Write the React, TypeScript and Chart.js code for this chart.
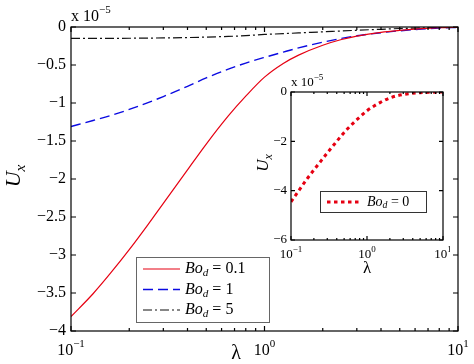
import { useEffect, useRef } from 'react';
import { Chart, registerables } from 'chart.js';
Chart.register(...registerables);

// λ sample points and Ux values (in units of 1e-5)
const lambda = [0.1, 0.13, 0.16, 0.2, 0.25, 0.3, 0.4, 0.5, 0.65, 0.8, 1, 1.25, 1.5, 2, 2.5, 3, 4, 5, 6.5, 8, 10];
const uxBo01 = [-3.81, -3.51, -3.24, -2.93, -2.60, -2.32, -1.88, -1.54, -1.17, -0.91, -0.66, -0.48, -0.37, -0.24, -0.165, -0.12, -0.07, -0.045, -0.022, -0.01, -0.004];
const uxBo1 = [-1.31, -1.23, -1.165, -1.085, -0.995, -0.915, -0.78, -0.67, -0.555, -0.475, -0.40, -0.33, -0.275, -0.20, -0.15, -0.115, -0.075, -0.05, -0.027, -0.014, -0.005];
const uxBo5 = [-0.15, -0.15, -0.149, -0.148, -0.146, -0.144, -0.139, -0.133, -0.124, -0.114, -0.098, -0.088, -0.078, -0.064, -0.052, -0.043, -0.03, -0.02, -0.012, -0.006, -0.003];
const uxBo0 = [-4.45, -3.95, -3.55, -3.16, -2.78, -2.47, -2.0, -1.64, -1.28, -1.02, -0.76, -0.56, -0.42, -0.24, -0.15, -0.10, -0.05, -0.03, -0.015, -0.007, -0.002];

const mainYTicks = [0, -0.5, -1, -1.5, -2, -2.5, -3, -3.5, -4];
const insetYTicks = [0, -2, -4, -6];
const xDecades = [0.1, 1, 10];
const xDecadeExps = ['\u22121', '0', '1'];
const xMinor = [0.2, 0.3, 0.4, 0.5, 0.6, 0.7, 0.8, 0.9, 2, 3, 4, 5, 6, 7, 8, 9];
const legendMain = ['0.1', '1', '5'];
const legendInset = ['0'];
const scaleExp = '\u22125';

const F = '"Liberation Serif","Times New Roman",serif';

function fmt(v: number) {
  return v === 0 ? '0' : (v < 0 ? '\u2212' : '') + String(Math.abs(v));
}

function supText(ctx: CanvasRenderingContext2D, base: string, sup: string, x: number, y: number, size: number, supSize: number, rise: number, align: string) {
  ctx.font = `${size}px ${F}`;
  const wb = ctx.measureText(base).width;
  ctx.font = `${supSize}px ${F}`;
  const ws = ctx.measureText(sup).width;
  const total = wb + ws;
  const x0 = align === 'center' ? x - total / 2 : align === 'right' ? x - total : x;
  ctx.textAlign = 'left';
  ctx.textBaseline = 'alphabetic';
  ctx.font = `${size}px ${F}`;
  ctx.fillText(base, x0, y);
  ctx.font = `${supSize}px ${F}`;
  ctx.fillText(sup, x0 + wb, y - rise);
}

function boLabel(ctx: CanvasRenderingContext2D, x: number, y: number, val: string, size: number) {
  ctx.fillStyle = '#000';
  ctx.textAlign = 'left';
  ctx.textBaseline = 'middle';
  ctx.font = `italic ${size}px ${F}`;
  ctx.fillText('Bo', x, y);
  let w = ctx.measureText('Bo').width;
  ctx.font = `italic ${size * 0.7}px ${F}`;
  ctx.fillText('d', x + w, y + size * 0.28);
  w += ctx.measureText('d').width;
  ctx.font = `${size}px ${F}`;
  ctx.fillText(' = ' + val, x + w, y);
}

function uxTitle(ctx: CanvasRenderingContext2D, x: number, y: number, size: number) {
  ctx.save();
  ctx.translate(x, y);
  ctx.rotate(-Math.PI / 2);
  ctx.fillStyle = '#000';
  ctx.textBaseline = 'alphabetic';
  ctx.textAlign = 'left';
  ctx.font = `italic ${size}px ${F}`;
  const wu = ctx.measureText('U').width;
  ctx.font = `italic ${size * 0.7}px ${F}`;
  const wx = ctx.measureText('x').width;
  const x0 = -(wu + wx) / 2;
  ctx.font = `italic ${size}px ${F}`;
  ctx.fillText('U', x0, 0);
  ctx.font = `italic ${size * 0.7}px ${F}`;
  ctx.fillText('x', x0 + wu, size * 0.22);
  ctx.restore();
}

type FrameOpts = {
  yTicks: number[];
  font: number;
  supFont: number;
  supRise: number;
  major: number;
  minor: number;
  yGap: number;
  xLabelDy: number;
};

function drawFrame(chart: any, o: FrameOpts) {
  const { ctx, chartArea: a } = chart;
  const xs = chart.scales.x;
  const ys = chart.scales.y;
  ctx.save();
  ctx.strokeStyle = '#000';
  ctx.lineWidth = 1.2;
  ctx.strokeRect(a.left, a.top, a.right - a.left, a.bottom - a.top);
  ctx.beginPath();
  o.yTicks.forEach((v) => {
    const py = ys.getPixelForValue(v);
    ctx.moveTo(a.left, py); ctx.lineTo(a.left + o.major, py);
    ctx.moveTo(a.right, py); ctx.lineTo(a.right - o.major, py);
  });
  xDecades.forEach((v) => {
    const px = xs.getPixelForValue(v);
    ctx.moveTo(px, a.bottom); ctx.lineTo(px, a.bottom - o.major);
    ctx.moveTo(px, a.top); ctx.lineTo(px, a.top + o.major);
  });
  xMinor.forEach((v) => {
    const px = xs.getPixelForValue(v);
    ctx.moveTo(px, a.bottom); ctx.lineTo(px, a.bottom - o.minor);
    ctx.moveTo(px, a.top); ctx.lineTo(px, a.top + o.minor);
  });
  ctx.stroke();
  ctx.fillStyle = '#000';
  ctx.font = `${o.font}px ${F}`;
  ctx.textAlign = 'right';
  ctx.textBaseline = 'middle';
  o.yTicks.forEach((v) => {
    ctx.fillText(fmt(v), a.left - o.yGap, ys.getPixelForValue(v));
  });
  xDecades.forEach((v, i) => {
    supText(ctx, '10', xDecadeExps[i], xs.getPixelForValue(v), a.bottom + o.xLabelDy, o.font, o.supFont, o.supRise, 'center');
  });
  supText(ctx, 'x 10', scaleExp, a.left, a.top - 6, o.font, o.supFont, o.supRise, 'left');
  ctx.restore();
}

const mainPlugin = {
  id: 'mainFrame',
  afterDraw(chart: any) {
    const { ctx, chartArea: a } = chart;
    drawFrame(chart, { yTicks: mainYTicks, font: 16, supFont: 11, supRise: 8, major: 5, minor: 3, yGap: 5, xLabelDy: 24 });
    ctx.save();
    // axis titles
    ctx.fillStyle = '#000';
    ctx.font = `${20}px ${F}`;
    ctx.textAlign = 'center';
    ctx.textBaseline = 'alphabetic';
    ctx.fillText('\u03bb', 236, a.bottom + 28);
    uxTitle(ctx, 20, (a.top + a.bottom) / 2 - 3, 22);
    // legend
    const lx = 136, ly = 257, lw = 133, lh = 65;
    ctx.fillStyle = '#fff';
    ctx.fillRect(lx, ly, lw, lh);
    ctx.strokeStyle = '#666';
    ctx.lineWidth = 1;
    ctx.strokeRect(lx + 0.5, ly + 0.5, lw, lh);
    chart.data.datasets.forEach((ds: any, i: number) => {
      const yy = ly + 12 + i * 20.5;
      ctx.beginPath();
      ctx.strokeStyle = ds.borderColor;
      ctx.lineWidth = ds.borderWidth;
      ctx.setLineDash(ds.borderDash || []);
      ctx.moveTo(lx + 7, yy); ctx.lineTo(lx + 44, yy);
      ctx.stroke();
      ctx.setLineDash([]);
      boLabel(ctx, lx + 49, yy, legendMain[i], 16);
    });
    ctx.restore();
  },
};

const insetPlugin = {
  id: 'insetFrame',
  beforeDraw(chart: any) {
    const { ctx, chartArea: a } = chart;
    ctx.save();
    ctx.fillStyle = '#fff';
    ctx.fillRect(a.left, a.top, a.right - a.left, a.bottom - a.top);
    ctx.restore();
  },
  afterDraw(chart: any) {
    const { ctx, chartArea: a } = chart;
    drawFrame(chart, { yTicks: insetYTicks, font: 13, supFont: 9, supRise: 6, major: 4, minor: 2, yGap: 4, xLabelDy: 18 });
    ctx.save();
    ctx.fillStyle = '#000';
    ctx.font = `${17}px ${F}`;
    ctx.textAlign = 'center';
    ctx.textBaseline = 'alphabetic';
    ctx.fillText('\u03bb', (a.left + a.right) / 2, a.bottom + 33);
    uxTitle(ctx, 18, (a.top + a.bottom) / 2 - 3, 17);
    const lx = a.left + 29, ly = a.top + 99, lw = 106, lh = 21;
    ctx.fillStyle = '#fff';
    ctx.fillRect(lx, ly, lw, lh);
    ctx.strokeStyle = '#333';
    ctx.lineWidth = 1;
    ctx.strokeRect(lx + 0.5, ly + 0.5, lw, lh);
    const ds = chart.data.datasets[0];
    const yy = ly + lh / 2 + 0.5;
    ctx.beginPath();
    ctx.strokeStyle = ds.borderColor;
    ctx.lineWidth = ds.borderWidth;
    ctx.setLineDash(ds.borderDash);
    ctx.moveTo(lx + 7, yy); ctx.lineTo(lx + 42, yy);
    ctx.stroke();
    ctx.setLineDash([]);
    boLabel(ctx, lx + 47, yy, legendInset[0], 14);
    ctx.restore();
  },
};

function pts(ys: number[]) {
  return lambda.map((x, i) => ({ x, y: ys[i] }));
}

function baseOptions(ymin: number, padding: any) {
  return {
    responsive: false,
    animation: false as const,
    layout: { padding },
    plugins: { legend: { display: false }, tooltip: { enabled: false } },
    elements: { point: { radius: 0 }, line: { cubicInterpolationMode: 'monotone' as const } },
    scales: {
      x: { type: 'logarithmic' as const, min: 0.1, max: 10, display: false },
      y: { type: 'linear' as const, min: ymin, max: 0, display: false },
    },
  };
}

export default function App() {
  const mainRef = useRef<HTMLCanvasElement>(null);
  const insetRef = useRef<HTMLCanvasElement>(null);
  useEffect(() => {
    const main = new Chart(mainRef.current!, {
      type: 'line',
      data: {
        datasets: [
          { data: pts(uxBo01), borderColor: 'rgb(230,0,18)', borderWidth: 1.2, fill: false },
          { data: pts(uxBo1), borderColor: 'rgb(10,10,225)', borderWidth: 1.4, borderDash: [10, 5], fill: false },
          { data: pts(uxBo5), borderColor: '#111', borderWidth: 1.2, borderDash: [9, 3, 2, 3], fill: false },
        ],
      },
      options: baseOptions(-4, { left: 71, top: 27, right: 16, bottom: 33 }) as any,
      plugins: [mainPlugin],
    });
    const inset = new Chart(insetRef.current!, {
      type: 'line',
      data: {
        datasets: [
          { data: pts(uxBo0), borderColor: 'rgb(230,0,18)', borderWidth: 3, borderDash: [3.5, 3.5], fill: false },
        ],
      },
      options: baseOptions(-6, { left: 41, top: 22, right: 7, bottom: 40 }) as any,
      plugins: [insetPlugin],
    });
    return () => {
      main.destroy();
      inset.destroy();
    };
  }, []);
  return (
    <div style={{ position: 'fixed', left: 0, top: 0, width: 474, height: 364, background: '#fff' }}>
      <canvas ref={mainRef} width={474} height={364} style={{ position: 'absolute', left: 0, top: 0, width: 474, height: 364 }} />
      <canvas ref={insetRef} width={200} height={210} style={{ position: 'absolute', left: 250, top: 70, width: 200, height: 210 }} />
    </div>
  );
}
